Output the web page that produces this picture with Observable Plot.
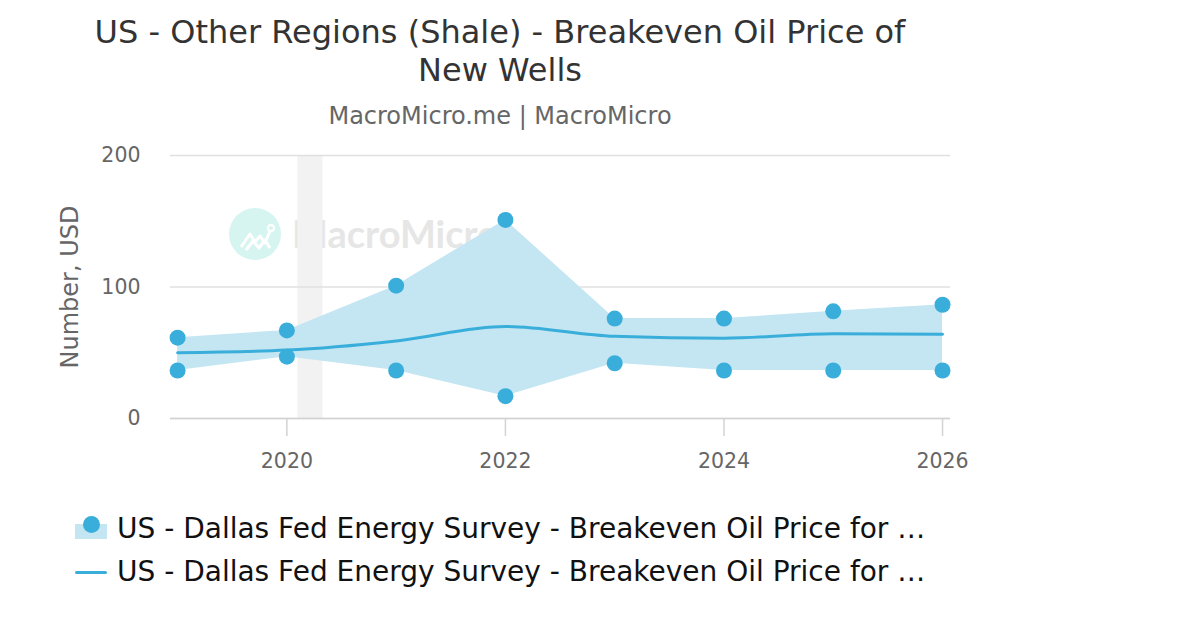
<!DOCTYPE html>
<html><head><meta charset="utf-8">
<script src="https://cdn.jsdelivr.net/npm/d3@7"></script>
<script src="https://cdn.jsdelivr.net/npm/@observablehq/plot@0.6"></script>
<style>
body{margin:0;background:#fff;font-family:"DejaVu Sans",sans-serif;}
#wrap{position:relative;width:1200px;height:630px;overflow:hidden;}
#title{position:absolute;left:0;top:13px;width:1000px;text-align:center;font-size:32px;line-height:38px;color:#333;}
#sub{position:absolute;left:0;top:101px;width:1000px;text-align:center;font-size:24px;line-height:30px;color:#666;}
#wm{position:absolute;left:229px;top:207px;z-index:0;}
#chart{position:absolute;left:0;top:140px;z-index:1;}
#legend{position:absolute;left:72px;top:507px;font-size:28px;color:#111;}
.li{height:43px;display:flex;align-items:center;}
.sw{width:36px;height:20px;position:relative;margin-right:9px;}
</style></head>
<body><div id="wrap">
<div id="title">US - Other Regions (Shale) - Breakeven Oil Price of<br>New Wells</div>
<div id="sub">MacroMicro.me | MacroMicro</div>
<div id="wm"><svg width="300" height="56">
<circle cx="26" cy="27" r="26" fill="#d6f5f0"/>
<polyline points="12,40 21,27 26,35 31,29 36,36 41,24" fill="none" stroke="#fff" stroke-width="3" stroke-linejoin="round"/>
<polyline points="17,43 24,34 30,41 36,33 41,41" fill="none" stroke="#fff" stroke-width="3" stroke-linejoin="round"/>
<circle cx="42" cy="21" r="3" fill="none" stroke="#fff" stroke-width="2"/>
<text x="63" y="41" font-family="Lato, 'Open Sans', sans-serif" font-weight="700" font-size="38" fill="#e6e6e6">MacroMicro</text>
</svg></div>
<div id="chart"></div>
<div id="legend">
<div class="li"><div class="sw"><div style="position:absolute;left:3px;top:5px;width:32px;height:15px;background:#c3e6f2"></div><div style="position:absolute;left:11px;top:-3px;width:17px;height:17px;border-radius:50%;background:#3aaedb"></div></div><span>US - Dallas Fed Energy Survey - Breakeven Oil Price for …</span></div>
<div class="li"><div class="sw"><div style="position:absolute;left:3px;top:9px;width:32px;height:3px;background:#3aaedb;border-radius:2px"></div></div><span>US - Dallas Fed Energy Survey - Breakeven Oil Price for …</span></div>
</div>
</div>
<script>
const years = [2019, 2020, 2021, 2022, 2023, 2024, 2025, 2026];
const high = [61.5, 67, 101, 151, 76, 76, 81.5, 86.5];
const low = [36.5, 47, 36.5, 17, 42, 36.5, 36.5, 36.5];
const mean = [50, 52, 59, 70, 62.5, 61, 64.5, 64];
const recession = [{start: 2020.1, end: 2020.33}];
const yTicks = [0, 100, 200];
const xTicks = [2020, 2022, 2024, 2026];

const rows = years.map((y, i) => ({year: y, high: high[i], low: low[i], mean: mean[i]}));
const col = "#3aaedb";

const chart = Plot.plot({
  width: 1000, height: 340,
  marginLeft: 170, marginRight: 50, marginTop: 15, marginBottom: 62,
  style: {background: "transparent", fontFamily: "DejaVu Sans, sans-serif", fontSize: "20.5px"},
  x: {domain: [2018.935, 2026.073], label: null},
  y: {domain: [0, 200], label: null},
  marks: [
    Plot.rect(recession, {x1: "start", x2: "end", fill: "#f2f2f2"}),
    Plot.ruleY(yTicks, {stroke: "#e0e0e0", strokeWidth: 1.3}),
    Plot.ruleY([0], {stroke: "#d3d3d3", strokeWidth: 1.5}),
    Plot.areaY(rows, {x: "year", y1: "low", y2: "high", fill: "#c3e6f2"}),
    Plot.line(rows, {x: "year", y: "mean", stroke: col, strokeWidth: 3, curve: "monotone-x"}),
    Plot.dot(rows, {x: "year", y: "high", r: 8, fill: col}),
    Plot.dot(rows, {x: "year", y: "low", r: 8, fill: col}),
    Plot.axisX(xTicks, {tickFormat: d => String(d), tickSize: 18, stroke: "#d3d3d3", strokeWidth: 1.5, fill: "#666", tickPadding: 17, fontSize: 20.5}),
    Plot.axisY(yTicks, {tickSize: 0, tickPadding: 30, fill: "#666", fontSize: 20.5, label: null}),
    Plot.text(["Number, USD"], {frameAnchor: "left", dx: -100, rotate: -90, textAnchor: "middle", fontSize: 24, fill: "#666"})
  ]
});
document.getElementById("chart").appendChild(chart);
</script>
</body></html>
